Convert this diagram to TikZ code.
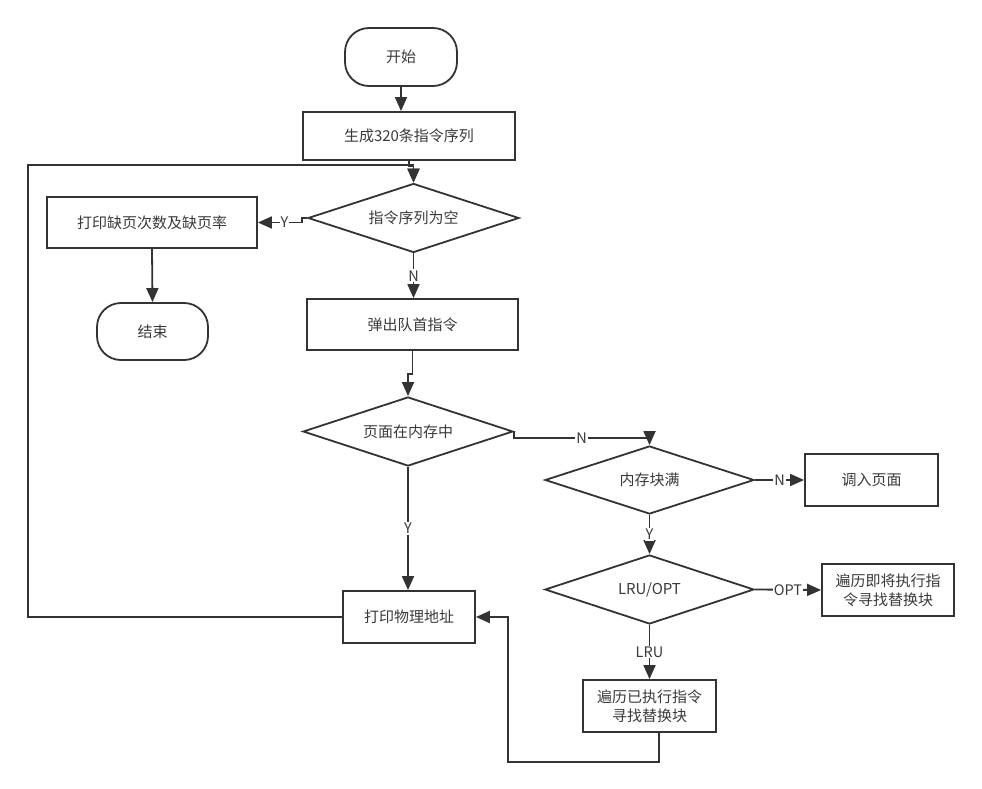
\documentclass[tikz,border=0pt]{standalone}
\usepackage{fontspec}
\setmainfont{Noto Sans CJK SC}
\usetikzlibrary{shapes.geometric,arrows.meta}
\definecolor{ln}{HTML}{333333}
\definecolor{txt}{HTML}{3A3A3A}
\begin{document}
\begin{tikzpicture}[x=1pt,y=-1pt,
  every node/.style={font=\fontsize{15}{19}\selectfont, text=txt},
  box/.style={draw=ln, line width=1.8pt, rectangle, inner sep=0pt, align=center},
  term/.style={box, rounded corners=24pt},
  dec/.style={draw=ln, line width=1.8pt, diamond, aspect=3, inner sep=0pt, align=center},
  conn/.style={draw=ln, line width=1.8pt, -{Triangle[length=14pt,width=12pt]}},
  lbl/.style={fill=white, inner sep=1pt, font=\fontsize{14.5}{16}\selectfont}]
\useasboundingbox (0,0) rectangle (982,789);

% nodes
\node[term, minimum width=112pt, minimum height=58pt] (start) at (401,57) {开始};
\node[box, minimum width=212pt, minimum height=48pt] (gen) at (409,136) {生成320条指令序列};
\node[dec, minimum width=211pt, minimum height=69pt] (d1) at (413.5,218) {指令序列为空};
\node[box, minimum width=210pt, minimum height=51pt] (pf) at (152,222.5) {打印缺页次数及缺页率};
\node[term, minimum width=111pt, minimum height=57pt] (end) at (152.5,331.5) {结束};
\node[box, minimum width=211pt, minimum height=51pt] (pop) at (412.5,324.5) {弹出队首指令};
\node[dec, minimum width=210pt, minimum height=69pt] (d2) at (408,431.5) {页面在内存中};
\node[dec, minimum width=209pt, minimum height=68pt] (d3) at (649.5,480) {内存块满};
\node[box, minimum width=133pt, minimum height=52pt] (load) at (871.5,480) {调入页面};
\node[dec, minimum width=209pt, minimum height=69pt] (d4) at (649.5,589.5) {LRU/OPT};
\node[box, minimum width=132pt, minimum height=52pt] (optb) at (888,590) {遍历即将执行指\\令寻找替换块};
\node[box, minimum width=133pt, minimum height=52pt] (lrub) at (649.5,706) {遍历已执行指令\\寻找替换块};
\node[box, minimum width=132pt, minimum height=52pt] (pa) at (409,617) {打印物理地址};

\coordinate (loopc) at (28,165);
\coordinate (ret) at (508,762);

% connectors
\draw[conn] (start.south) -- (start.south |- gen.north);
\draw[conn] (gen.south) -- ++(0,5) -| (d1.north);
\draw[conn] (pa.west) -| (loopc) -| (d1.north);
\draw[conn] (d1.west) -- ++(-5,0) |- node[lbl, pos=0.7] {Y} (pf.east);
\draw[conn] (pf.south) -- (end.north);
\draw[conn] (d1.south) -- node[lbl] {N} (d1.south |- pop.north);
\draw[conn] (pop.south) -- ++(0,23) -| (d2.north);
\draw[conn] (d2.east) -- ++(0,6.5) -| node[lbl, pos=0.25] {N} (d3.north);
\draw[conn] (d3.east) -- node[lbl] {N} (load.west);
\draw[conn] (d3.south) -- node[lbl] {Y} (d4.north);
\draw[conn] (d4.east) -- node[lbl] {OPT} (optb.west);
\draw[conn] (d4.south) -- node[lbl] {LRU} (lrub.north);
\draw[conn] ([xshift=9.5pt]lrub.south) |- (ret) |- (pa.east);
\draw[conn] (d2.south) -- node[lbl] {Y} (d2.south |- pa.north);
\end{tikzpicture}
\end{document}
